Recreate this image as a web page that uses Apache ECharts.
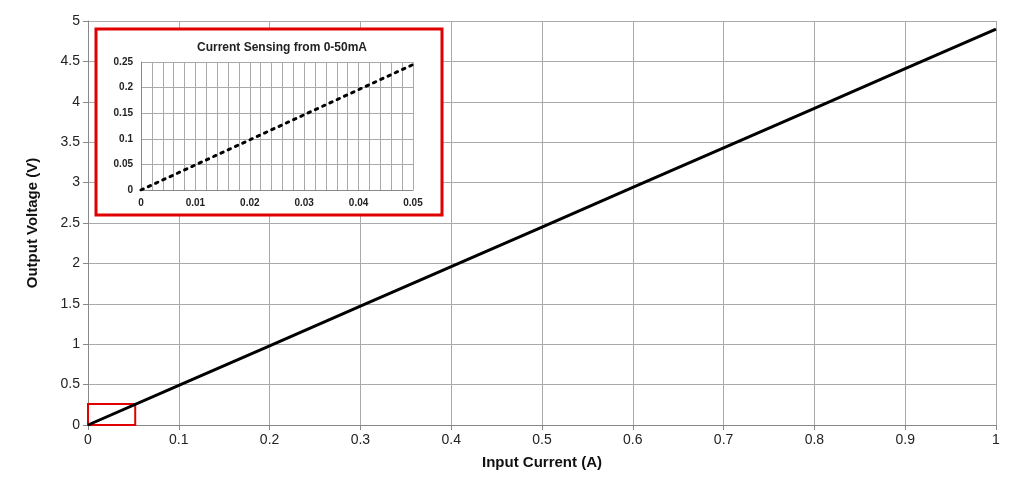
<!DOCTYPE html>
<html>
<head>
<meta charset="utf-8">
<script src="https://cdn.jsdelivr.net/npm/echarts@6/dist/echarts.min.js"></script>
<style>html,body{margin:0;padding:0;background:#fff}#chart{width:1024px;height:485px}</style>
</head>
<body>
<div id="chart"></div>
<script>
// main curve: input current (A) vs output voltage (V)
var mainCurrent = [0, 0.1, 0.2, 0.3, 0.4, 0.5, 0.6, 0.7, 0.8, 0.9, 1];
var mainVoltage = [0, 0.49, 0.98, 1.47, 1.96, 2.45, 2.94, 3.43, 3.92, 4.41, 4.9];
// inset: 0-50mA
var insetCurrent = [0, 0.01, 0.02, 0.03, 0.04, 0.05];
var insetVoltage = [0, 0.049, 0.098, 0.147, 0.196, 0.245];
var zoomBox = [[0, 0], [0.052, 0.26]];

var font = 'Liberation Sans, Arial, sans-serif';
var chart = echarts.init(document.getElementById('chart'));

function pairs(xs, ys) {
    return xs.map(function (x, i) { return [x, ys[i]]; });
}

chart.setOption({
    animation: false,
    textStyle: { fontFamily: font },
    title: {
        text: 'Current Sensing from 0-50mA', z: 20,
        left: 277, top: 37, textAlign: 'center',
        textStyle: { fontSize: 12, fontWeight: 'bold', color: '#222', fontFamily: font }
    },
    grid: [
        { left: 88, right: 28, top: 21, bottom: 60 },
        { left: 141, width: 272, top: 62, height: 128, z: 10 }
    ],
    xAxis: [{
        gridIndex: 0, type: 'value', min: 0, max: 1, interval: 0.1,
        name: 'Input Current (A)', nameLocation: 'middle', nameGap: 30,
        nameTextStyle: { fontSize: 15, fontWeight: 'bold', color: '#111' },
        axisLine: { lineStyle: { color: '#888' } },
        axisTick: { show: true, lineStyle: { color: '#888' } },
        axisLabel: { fontSize: 14, color: '#222' },
        splitLine: { lineStyle: { color: '#aaa' } }
    }, {
        gridIndex: 1, type: 'value', min: 0, max: 0.05, interval: 0.002, z: 20,
        axisLine: { lineStyle: { color: '#888' } },
        axisTick: { show: false },
        axisLabel: {
            fontSize: 10, fontWeight: 'bold', color: '#222', margin: 8,
            formatter: function (v) {
                var r = Math.round(v * 1000);
                return r % 10 === 0 ? String(+(r / 1000).toFixed(2)) : '';
            }
        },
        splitLine: { lineStyle: { color: '#aaa' } }
    }],
    yAxis: [{
        gridIndex: 0, type: 'value', min: 0, max: 5, interval: 0.5,
        name: 'Output Voltage (V)', nameLocation: 'middle', nameGap: 48,
        nameTextStyle: { fontSize: 15, fontWeight: 'bold', color: '#111' },
        axisLine: { show: true, lineStyle: { color: '#888' } },
        axisTick: { show: true, lineStyle: { color: '#888' } },
        axisLabel: { fontSize: 14, color: '#222' },
        splitLine: { lineStyle: { color: '#aaa' } }
    }, {
        gridIndex: 1, type: 'value', min: 0, max: 0.25, interval: 0.05, z: 20,
        axisLine: { show: true, lineStyle: { color: '#888' } },
        axisTick: { show: false },
        axisLabel: { fontSize: 10, fontWeight: 'bold', color: '#222' },
        splitLine: { lineStyle: { color: '#aaa' } }
    }],
    graphic: [{
        type: 'rect', z: 5,
        shape: { x: 96, y: 29, width: 346, height: 186 },
        style: { fill: '#fff', stroke: '#e00000', lineWidth: 3 }
    }],
    series: [{
        type: 'line', xAxisIndex: 0, yAxisIndex: 0, z: 3,
        data: pairs(mainCurrent, mainVoltage),
        showSymbol: false, lineStyle: { color: '#000', width: 3 },
        markArea: {
            silent: true,
            itemStyle: { color: 'rgba(0,0,0,0)', borderColor: '#e00000', borderWidth: 2 },
            data: [[{ coord: zoomBox[0] }, { coord: zoomBox[1] }]]
        }
    }, {
        type: 'line', xAxisIndex: 1, yAxisIndex: 1, z: 22,
        data: pairs(insetCurrent, insetVoltage),
        showSymbol: false,
        lineStyle: { color: '#000', width: 3, type: [2.5, 5.5], cap: 'round' }
    }]
});
</script>
</body>
</html>
